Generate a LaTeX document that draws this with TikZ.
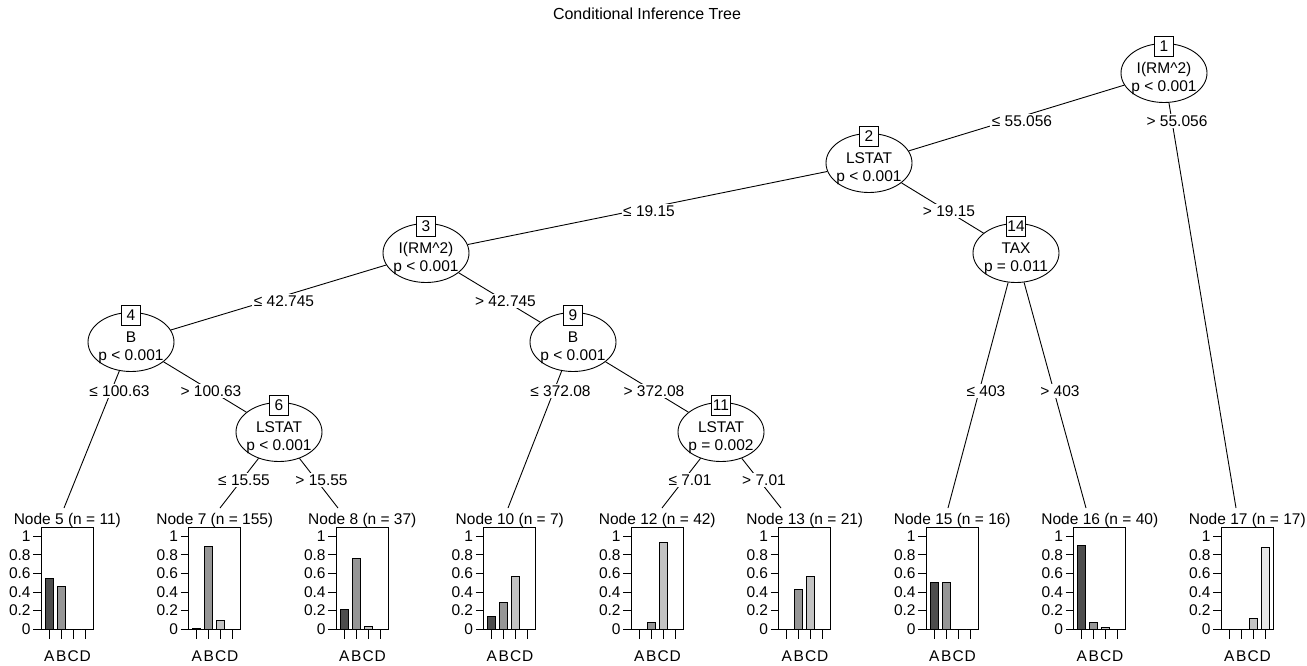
\documentclass[tikz,border=0pt]{standalone}
\usepackage{fontspec}
\setmainfont{Liberation Sans}
\usetikzlibrary{shapes.geometric}

\definecolor{barA}{HTML}{4D4D4D}
\definecolor{barB}{HTML}{969696}
\definecolor{barC}{HTML}{C3C3C3}
\definecolor{barD}{HTML}{E6E6E6}

\tikzset{
  txt/.style={font=\fontsize{15.5}{18}\selectfont, inner sep=0pt},
  ellnode/.style={draw, ellipse, fill=white, line width=0.9pt,
    minimum width=86pt, minimum height=59pt, inner sep=0pt},
  idbox/.style={txt, draw, fill=white, line width=0.9pt,
    minimum width=19pt, minimum height=20pt},
  cutlabel/.style={txt, fill=white, inner sep=1.5pt},
  link/.style={line width=0.9pt},
  frame/.style={line width=0.9pt},
}

% inner split node: name, x, y, id, variable, p-value
\newcommand{\innernode}[6]{%
  \node[ellnode] (#1) at (#2,#3) {};
  \node[txt, anchor=base] (#1-var) at (#2,#3) {#5};
  \node[txt, anchor=base] (#1-p) at (#2,#3+18.5) {#6};
  \node[idbox] (#1-id) at (#2,#3-27) {#4};
}

% terminal barplot: name, left x, node number, n, shares of A B C D
\newcommand{\leafplot}[8]{%
  \node[txt, anchor=base] (#1-title) at (#2+26,524.3) {Node #3 (n = #4)};
  \draw[frame] (#2,527.3) rectangle (#2+52,629.3);
  \foreach \val/\col [count=\bi] in {#5/barA,#6/barB,#7/barC,#8/barD}{
    \draw[frame, fill=\col] (#2+12*\bi-8,629.3) rectangle (#2+12*\bi,629.3-93.3*\val);
    \draw[frame] (#2+12*\bi-4,629.3) -- (#2+12*\bi-4,639.3);
  }
  \foreach \tk [count=\yi from 0] in {0,0.2,0.4,0.6,0.8,1}{
    \draw[frame] (#2-8,629.3-18.66*\yi) -- (#2,629.3-18.66*\yi);
    \node[txt, anchor=east] (#1-y\yi) at (#2-10.5,629.3-18.66*\yi) {\tk};
  }
  \foreach \lt [count=\bi] in {A,B,C,D}
    \node[txt, anchor=base] (#1-\lt) at (#2+12*\bi-4,661.5) {\lt};
}

\begin{document}
\begin{tikzpicture}[x=1pt, y=-1pt]
  \path[use as bounding box, fill=white] (0,0) rectangle (1307,665);

  \node[txt, font=\fontsize{16}{19}\selectfont] (title) at (647,14) {Conditional Inference Tree};

  % split nodes
  \innernode{n1}{1164}{73}{1}{I(RM\^{}2)}{p < 0.001}
  \innernode{n2}{869}{163}{2}{LSTAT}{p < 0.001}
  \innernode{n3}{426}{253}{3}{I(RM\^{}2)}{p < 0.001}
  \innernode{n14}{1016}{253}{14}{TAX}{p = 0.011}
  \innernode{n4}{131}{342}{4}{B}{p < 0.001}
  \innernode{n9}{573}{342}{9}{B}{p < 0.001}
  \innernode{n6}{279}{432}{6}{LSTAT}{p < 0.001}
  \innernode{n11}{721}{432}{11}{LSTAT}{p = 0.002}

  % tops of the terminal panels
  \coordinate (t5) at (64,508);
  \coordinate (t7) at (220,508);
  \coordinate (t8) at (338,508);
  \coordinate (t10) at (508,508);
  \coordinate (t12) at (662,508);
  \coordinate (t13) at (781,508);
  \coordinate (t15) at (948,508);
  \coordinate (t16) at (1086,508);
  \coordinate (t17) at (1236,508);

  \draw[link] (n1) -- (n2);
  \draw[link] (n1) -- (t17);
  \draw[link] (n2) -- (n3);
  \draw[link] (n2) -- (n14);
  \draw[link] (n3) -- (n4);
  \draw[link] (n3) -- (n9);
  \draw[link] (n4) -- (t5);
  \draw[link] (n4) -- (n6);
  \draw[link] (n6) -- (t7);
  \draw[link] (n6) -- (t8);
  \draw[link] (n9) -- (t10);
  \draw[link] (n9) -- (n11);
  \draw[link] (n11) -- (t12);
  \draw[link] (n11) -- (t13);
  \draw[link] (n14) -- (t15);
  \draw[link] (n14) -- (t16);

  % split labels
  \node[cutlabel] (l1a) at (1022,121) {≤ 55.056};
  \node[cutlabel] (l1b) at (1177,121) {> 55.056};
  \node[cutlabel] (l2a) at (649,211) {≤ 19.15};
  \node[cutlabel] (l2b) at (949,211) {> 19.15};
  \node[cutlabel] (l3a) at (284,301) {≤ 42.745};
  \node[cutlabel] (l3b) at (505.5,301) {> 42.745};
  \node[cutlabel] (l4a) at (119.5,391) {≤ 100.63};
  \node[cutlabel] (l4b) at (211,391) {> 100.63};
  \node[cutlabel] (l9a) at (560.5,391) {≤ 372.08};
  \node[cutlabel] (l9b) at (654,391) {> 372.08};
  \node[cutlabel] (l14a) at (986,391) {≤ 403};
  \node[cutlabel] (l14b) at (1060,391) {> 403};
  \node[cutlabel] (l6a) at (244,480) {≤ 15.55};
  \node[cutlabel] (l6b) at (321.5,480) {> 15.55};
  \node[cutlabel] (l11a) at (690,480) {≤ 7.01};
  \node[cutlabel] (l11b) at (764,480) {> 7.01};

  % terminal nodes
  \leafplot{n5}{41.3}{5}{11}{0.545}{0.455}{0}{0}
  \leafplot{n7}{188.8}{7}{155}{0.01}{0.89}{0.09}{0}
  \leafplot{n8}{336.3}{8}{37}{0.216}{0.757}{0.027}{0}
  \leafplot{n10}{483.8}{10}{7}{0.143}{0.286}{0.571}{0}
  \leafplot{n12}{631.3}{12}{42}{0}{0.071}{0.929}{0}
  \leafplot{n13}{778.8}{13}{21}{0}{0.429}{0.571}{0}
  \leafplot{n15}{926.3}{15}{16}{0.5}{0.5}{0}{0}
  \leafplot{n16}{1073.8}{16}{40}{0.9}{0.075}{0.025}{0}
  \leafplot{n17}{1221.3}{17}{17}{0}{0}{0.118}{0.882}
\end{tikzpicture}
\end{document}
